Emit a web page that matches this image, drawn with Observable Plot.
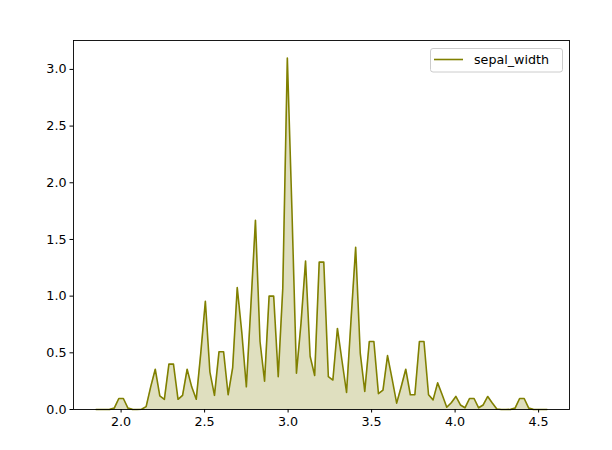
<!DOCTYPE html>
<html>
<head>
<meta charset="utf-8">
<script src="https://cdn.jsdelivr.net/npm/d3@7"></script>
<script src="https://cdn.jsdelivr.net/npm/@observablehq/plot@0.6"></script>
<style>
  html, body { margin: 0; padding: 0; background: #fff; }
  #chart { width: 612px; height: 450px; }
</style>
</head>
<body>
<div id="chart"></div>
<script>
// KDE of iris sepal_width, evaluated on a 100-point grid from 1.85 to 4.55
const gridStart = 1.85;
const gridEnd = 4.55;
const density = [
  0, 0, 0, 0.001, 0.012, 0.097, 0.097, 0.012, 0.001, 0,
  0.002, 0.025, 0.2, 0.355, 0.12, 0.09, 0.40, 0.40, 0.09, 0.125,
  0.355, 0.2, 0.09, 0.5, 0.955, 0.33, 0.125, 0.51, 0.51, 0.13,
  0.37, 1.075, 0.68, 0.2, 0.92, 1.67, 0.6, 0.25, 1.0, 1.0,
  0.29, 1.07, 3.10, 1.77, 0.32, 0.76, 1.31, 0.47, 0.30, 1.30,
  1.30, 0.29, 0.26, 0.715, 0.43, 0.15, 0.8, 1.43, 0.5, 0.16,
  0.60, 0.60, 0.14, 0.17, 0.475, 0.27, 0.056, 0.2, 0.355, 0.13,
  0.13, 0.60, 0.60, 0.13, 0.085, 0.235, 0.13, 0.02, 0.06, 0.115,
  0.04, 0.015, 0.097, 0.097, 0.015, 0.04, 0.115, 0.058, 0.004, 0,
  0, 0.001, 0.012, 0.097, 0.097, 0.012, 0.001, 0, 0, 0
];
const xTicks = [2.0, 2.5, 3.0, 3.5, 4.0, 4.5];
const yTicks = [0.0, 0.5, 1.0, 1.5, 2.0, 2.5, 3.0];
const seriesName = "sepal_width";
const color = "#808000";

const n = density.length;
const data = density.map((d, i) => ({
  x: gridStart + i * (gridEnd - gridStart) / (n - 1),
  y: d
}));

const xMin = gridStart, xMax = gridEnd, xPad = 0.05 * (xMax - xMin);
const yMax = d3.max(density) * 1.05;

const font = {fontFamily: "'DejaVu Sans', sans-serif", fontSize: "12.7px", color: "black"};

const chart = Plot.plot({
  width: 612,
  height: 450,
  marginLeft: 73,
  marginRight: 43,
  marginTop: 40,
  marginBottom: 41,
  style: {...font, background: "white", overflow: "visible"},
  x: {domain: [xMin - xPad, xMax + xPad]},
  y: {domain: [0, yMax]},
  marks: [
    Plot.areaY(data, {x: "x", y: "y", fill: color, fillOpacity: 0.25}),
    Plot.lineY(data, {x: "x", y: "y", stroke: color, strokeWidth: 1.6}),
    Plot.frame({stroke: "black", strokeWidth: 0.9}),
    Plot.axisX({ticks: xTicks, tickFormat: d3.format(".1f"), tickSize: 3.5, tickPadding: 3.5, label: null, stroke: "black", fill: "black"}),
    Plot.axisY({ticks: yTicks, tickFormat: d3.format(".1f"), tickSize: 3.5, tickPadding: 3.5, label: null, stroke: "black", fill: "black"})
  ]
});

document.getElementById("chart").appendChild(chart);

// Legend (matplotlib-style, upper right)
const svg = d3.select(chart);
const lg = svg.append("g").attr("class", "legend").attr("text-anchor", "start");
lg.append("rect")
  .attr("x", 430.5).attr("y", 48.5).attr("width", 132).attr("height", 23.5)
  .attr("rx", 2.5).attr("ry", 2.5)
  .attr("fill", "white").attr("fill-opacity", 0.8)
  .attr("stroke", "#cccccc").attr("stroke-width", 1);
lg.append("line")
  .attr("x1", 434).attr("x2", 463).attr("y1", 59.5).attr("y2", 59.5)
  .attr("stroke", color).attr("stroke-width", 1.6);
lg.append("text")
  .attr("x", 474).attr("y", 59.5)
  .attr("dy", "0.35em")
  .attr("text-anchor", "start")
  .attr("fill", "black")
  .style("font-family", "'DejaVu Sans', sans-serif")
  .style("font-size", "12.7px")
  .text(seriesName);
</script>
</body>
</html>
